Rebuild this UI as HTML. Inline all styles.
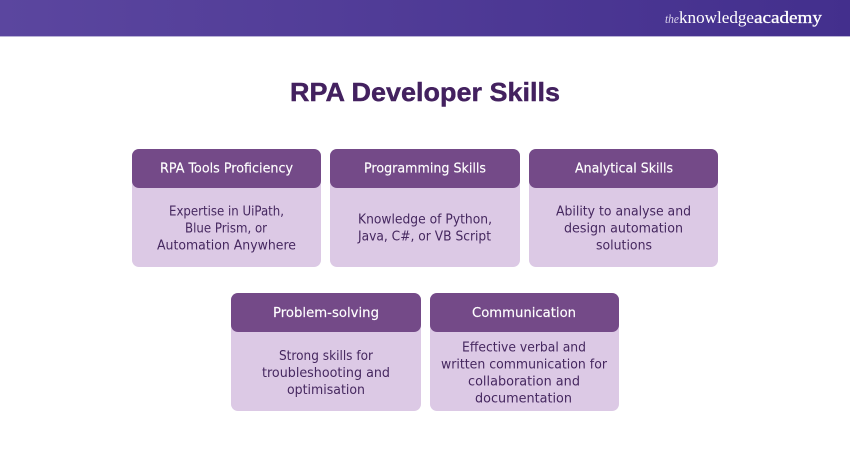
<!DOCTYPE html>
<html><head><meta charset="utf-8"><style>
html,body{margin:0;padding:0;background:#fff;width:850px;height:450px;overflow:hidden}
svg{display:block}
.h{font-family:"DejaVu Sans",sans-serif;font-size:13.5px;fill:#fff;stroke:#fff;stroke-width:.15}
.b{font-family:"DejaVu Sans",sans-serif;font-size:13.5px;fill:#45275f}
</style></head><body>
<svg width="850" height="450" viewBox="0 0 850 450" xmlns="http://www.w3.org/2000/svg">
<defs>
<linearGradient id="g" x1="0" x2="1" y1="0" y2="0"><stop offset="0" stop-color="#5b469f"/><stop offset="1" stop-color="#432f8d"/></linearGradient>
</defs>
<rect x="0" y="0" width="850" height="36" fill="url(#g)"/>
<rect x="0" y="36" width="850" height="1" fill="#b9b2d6"/>
<text x="665" y="23" font-family="'Liberation Serif',serif" font-size="13" font-style="italic" fill="#d9d3ec" textLength="14" lengthAdjust="spacingAndGlyphs">the</text>
<text x="679" y="23" font-family="'Liberation Serif',serif" font-size="17" fill="#fff" textLength="75" lengthAdjust="spacingAndGlyphs">knowledge</text>
<text x="754" y="23" font-family="'Liberation Serif',serif" font-size="17" fill="#fff" stroke="#fff" stroke-width=".3" textLength="68" lengthAdjust="spacingAndGlyphs">academy</text>
<text x="290" y="101" font-family="'Liberation Sans',sans-serif" font-weight="700" font-size="26" fill="#43215f" stroke="#43215f" stroke-width=".4" textLength="270" lengthAdjust="spacingAndGlyphs">RPA Developer Skills</text>

<rect x="132" y="149" width="189" height="118" rx="7" fill="#dcc9e5"/>
<rect x="132" y="149" width="189" height="39" rx="7" fill="#744a88"/>
<rect x="330" y="149" width="190" height="118" rx="7" fill="#dcc9e5"/>
<rect x="330" y="149" width="190" height="39" rx="7" fill="#744a88"/>
<rect x="529" y="149" width="189" height="118" rx="7" fill="#dcc9e5"/>
<rect x="529" y="149" width="189" height="39" rx="7" fill="#744a88"/>
<rect x="231" y="293" width="190" height="118" rx="7" fill="#dcc9e5"/>
<rect x="231" y="293" width="190" height="39" rx="7" fill="#744a88"/>
<rect x="430" y="293" width="189" height="118" rx="7" fill="#dcc9e5"/>
<rect x="430" y="293" width="189" height="39" rx="7" fill="#744a88"/>

<text class="h" x="160" y="172.5" textLength="133" lengthAdjust="spacingAndGlyphs">RPA Tools Proficiency</text>
<text class="h" x="364" y="172.5" textLength="122" lengthAdjust="spacingAndGlyphs">Programming Skills</text>
<text class="h" x="575" y="172.5" textLength="98" lengthAdjust="spacingAndGlyphs">Analytical Skills</text>
<text class="h" x="273" y="317" textLength="106" lengthAdjust="spacingAndGlyphs">Problem-solving</text>
<text class="h" x="472" y="317" textLength="104" lengthAdjust="spacingAndGlyphs">Communication</text>

<text class="b" x="169" y="215.7" textLength="115" lengthAdjust="spacingAndGlyphs">Expertise in UiPath,</text>
<text class="b" x="185" y="232.7" textLength="82" lengthAdjust="spacingAndGlyphs">Blue Prism, or</text>
<text class="b" x="157" y="249.7" textLength="139" lengthAdjust="spacingAndGlyphs">Automation Anywhere</text>

<text class="b" x="358" y="223.4" textLength="134" lengthAdjust="spacingAndGlyphs">Knowledge of Python,</text>
<text class="b" x="358" y="240.4" textLength="133" lengthAdjust="spacingAndGlyphs">Java, C#, or VB Script</text>

<text class="b" x="556" y="215.7" textLength="135" lengthAdjust="spacingAndGlyphs">Ability to analyse and</text>
<text class="b" x="564" y="232.7" textLength="119" lengthAdjust="spacingAndGlyphs">design automation</text>
<text class="b" x="596" y="249.7" textLength="56" lengthAdjust="spacingAndGlyphs">solutions</text>

<text class="b" x="279" y="360" textLength="94" lengthAdjust="spacingAndGlyphs">Strong skills for</text>
<text class="b" x="262" y="377" textLength="128" lengthAdjust="spacingAndGlyphs">troubleshooting and</text>
<text class="b" x="287" y="394" textLength="78" lengthAdjust="spacingAndGlyphs">optimisation</text>

<text class="b" x="462" y="351.5" textLength="124" lengthAdjust="spacingAndGlyphs">Effective verbal and</text>
<text class="b" x="441" y="368.5" textLength="166" lengthAdjust="spacingAndGlyphs">written communication for</text>
<text class="b" x="468" y="385.5" textLength="112" lengthAdjust="spacingAndGlyphs">collaboration and</text>
<text class="b" x="475" y="402.5" textLength="97" lengthAdjust="spacingAndGlyphs">documentation</text>
</svg>
</body></html>
